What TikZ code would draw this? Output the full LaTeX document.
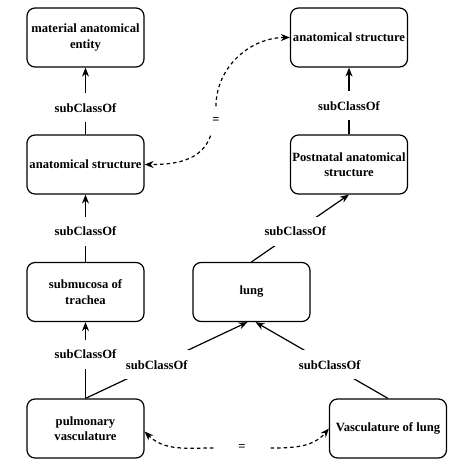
\documentclass[tikz,border=0pt]{standalone}
\usepackage{fontspec}
\setmainfont{Liberation Serif}
\usetikzlibrary{arrows.meta,calc}

\begin{document}
\begin{tikzpicture}[x=1pt,y=1pt,
  onto/.style={draw, rounded corners=8pt, line width=1.2pt, fill=white,
    minimum width=117pt, minimum height=59pt, inner xsep=1pt, align=center,
    font=\fontsize{12.6}{15.3}\selectfont\bfseries},
  subcls/.style={line width=1.2pt, -{Stealth[length=9pt,width=7pt]}},
  equiv/.style={line width=1.2pt, dash pattern=on 3.5pt off 3pt,
    -{Stealth[length=9pt,width=7pt]}},
  rel/.style={fill=white, inner xsep=1pt, inner ysep=10pt,
    font=\fontsize{12.6}{15.3}\selectfont\bfseries},
  eqmark/.style={minimum width=57pt, minimum height=29pt, inner sep=0pt,
    font=\fontsize{12.6}{15.3}\selectfont\bfseries}]
  \useasboundingbox (0,0) rectangle (474,-474);

  \node[onto] (mat) at (85.5,-37.5) {material anatomical\\entity};
  \node[onto] (anaL) at (85.5,-164.5) {anatomical structure};
  \node[onto] (subm) at (85.5,-292) {submucosa of\\trachea};
  \node[onto] (pulm) at (85.5,-428.5) {pulmonary\\vasculature};
  \node[onto] (anaR) at (349,-37.5) {anatomical structure};
  \node[onto] (postn) at (349,-164.5) {Postnatal anatomical\\structure};
  \node[onto] (lung) at (251.5,-292) {lung};
  \node[onto] (vlung) at (388,-428.5) {Vasculature of lung};
  \node[eqmark] (eqtop) at (216,-121) {=};
  \node[eqmark] (eqbot) at (242,-448) {=};

  \draw[subcls] (anaL) -- node[rel,pos=0.4] {subClassOf} (mat);
  \draw[subcls] (subm) -- node[rel,pos=0.45] {subClassOf} (anaL);
  \draw[subcls] (pulm) -- node[rel,pos=0.58] {subClassOf} (subm);
  \draw[subcls] (postn) -- node[rel,pos=0.43] {subClassOf} (anaR);
  \draw[subcls] (lung.north) -- node[rel,pos=0.45] {subClassOf} (postn.south);
  \draw[subcls] (pulm.north) -- node[rel,pos=0.44] {subClassOf} ([xshift=-4pt]lung.south);
  \draw[subcls] (vlung.north) -- node[rel,pos=0.44] {subClassOf} ([xshift=4pt]lung.south);

  \draw[equiv] (eqtop) to[out=90,in=180] (anaR.west);
  \draw[equiv] (eqtop) to[out=-110,in=0] (anaL.east);
  \draw[equiv] (eqbot) to[out=180,in=-45] ($(pulm.east)+(0,-3)$);
  \draw[equiv] (eqbot) to[out=0,in=-130] (vlung.west);
\end{tikzpicture}
\end{document}
